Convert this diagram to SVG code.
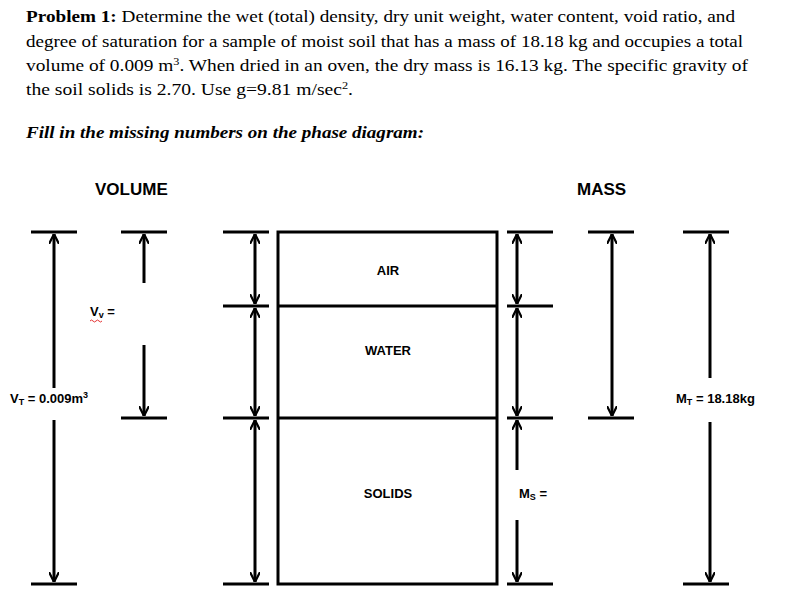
<svg xmlns="http://www.w3.org/2000/svg" width="787" height="604" viewBox="0 0 787 604">
<defs>
<marker id="ah" viewBox="0 0 10 10" refX="10" refY="5" markerWidth="10" markerHeight="10" markerUnits="userSpaceOnUse" orient="auto"><path d="M0,0 L10,5 L0,10" fill="none" stroke="#000" stroke-width="2.2"/></marker>
</defs>
<style>
.t{font-family:"Liberation Serif",serif;font-size:17.5px;fill:#000}
.s{font-family:"Liberation Sans",Arial,sans-serif;font-weight:bold;fill:#000}
.k{stroke:#000;stroke-width:3;fill:none}
.a{stroke:#000;stroke-width:3;fill:none;marker-end:url(#ah)}
</style>
<rect width="787" height="604" fill="#fff"/>
<g id="problem">
<text class="t" x="26" y="22" textLength="709" lengthAdjust="spacingAndGlyphs"><tspan font-weight="bold">Problem 1:</tspan>  Determine the wet (total) density, dry unit weight, water content, void ratio, and</text>
<text class="t" x="26" y="47" textLength="717" lengthAdjust="spacingAndGlyphs">degree of saturation for a sample of moist soil that has a mass of 18.18 kg and occupies a total</text>
<text class="t" x="26" y="71" textLength="722" lengthAdjust="spacingAndGlyphs">volume of 0.009 m<tspan dy="-6" font-size="11">3</tspan><tspan dy="6">.  When dried in an oven, the dry mass is 16.13 kg.  The specific gravity of</tspan></text>
<text class="t" x="26" y="95" textLength="327" lengthAdjust="spacingAndGlyphs">the soil solids is 2.70.  Use g=9.81 m/sec<tspan dy="-6" font-size="11">2</tspan><tspan dy="6">.</tspan></text>
<text class="t" x="26" y="138" font-weight="bold" font-style="italic" textLength="398" lengthAdjust="spacingAndGlyphs">Fill in the missing numbers on the phase diagram:</text>
</g>
<g id="headers">
<text class="s" x="95" y="195" font-size="17">VOLUME</text>
<text class="s" x="577" y="195" font-size="17">MASS</text>
</g>
<g id="phases">
<rect x="278" y="232" width="219" height="352" class="k"/>
<line x1="278" y1="306" x2="497" y2="306" class="k"/>
<line x1="278" y1="418" x2="497" y2="418" class="k"/>
<text class="s" x="388" y="275" font-size="13" text-anchor="middle" font-weight="normal">AIR</text>
<text class="s" x="388" y="355" font-size="13" text-anchor="middle" font-weight="normal">WATER</text>
<text class="s" x="388" y="498" font-size="13" text-anchor="middle" font-weight="normal">SOLIDS</text>
</g>
<g id="labels">
<text class="s" x="10" y="403" font-size="13">V<tspan font-size="9" dy="2">T</tspan><tspan dy="-2"> = 0.009m</tspan><tspan font-size="9" dy="-5">3</tspan></text>
<text class="s" x="90" y="316" font-size="13">V<tspan font-size="9" dy="2">v</tspan><tspan dy="-2"> =</tspan></text>
<path d="M90,321 q1.5,-2 3,0 t3,0 t3,0 t3,0" stroke="#d00" stroke-width="0.8" fill="none"/>
<text class="s" x="519" y="498" font-size="13" font-weight="normal">M<tspan font-size="9" dy="2">S</tspan><tspan dy="-2"> =</tspan></text>
<text class="s" x="676" y="403" font-size="13">M<tspan font-size="9" dy="2">T</tspan><tspan dy="-2"> = 18.18kg</tspan></text>
</g>
<g id="connectors">
<g class="k">
<line x1="31" y1="232" x2="77" y2="232"/><line x1="31" y1="584" x2="77" y2="584"/>
<line x1="121" y1="232" x2="167" y2="232"/><line x1="121" y1="418" x2="167" y2="418"/>
<line x1="223" y1="232" x2="269" y2="232"/><line x1="223" y1="306" x2="269" y2="306"/><line x1="223" y1="418" x2="269" y2="418"/><line x1="223" y1="584" x2="269" y2="584"/>
<line x1="507" y1="232" x2="553" y2="232"/><line x1="507" y1="306" x2="553" y2="306"/><line x1="507" y1="418" x2="553" y2="418"/><line x1="507" y1="584" x2="553" y2="584"/>
<line x1="588" y1="232" x2="634" y2="232"/><line x1="588" y1="418" x2="634" y2="418"/>
<line x1="683" y1="232" x2="729" y2="232"/><line x1="683" y1="584" x2="729" y2="584"/>
</g>
<line x1="54" y1="388" x2="54" y2="234" class="a"/>
<line x1="54" y1="420" x2="54" y2="582" class="a"/>
<line x1="144" y1="283" x2="144" y2="234" class="a"/>
<line x1="144" y1="345" x2="144" y2="416" class="a"/>
<line x1="255" y1="269" x2="255" y2="234" class="a"/><line x1="255" y1="269" x2="255" y2="304" class="a"/>
<line x1="255" y1="362" x2="255" y2="308" class="a"/><line x1="255" y1="362" x2="255" y2="416" class="a"/>
<line x1="255" y1="500" x2="255" y2="420" class="a"/><line x1="255" y1="500" x2="255" y2="582" class="a"/>
<line x1="517" y1="269" x2="517" y2="234" class="a"/><line x1="517" y1="269" x2="517" y2="304" class="a"/>
<line x1="517" y1="362" x2="517" y2="308" class="a"/><line x1="517" y1="362" x2="517" y2="416" class="a"/>
<line x1="517" y1="470" x2="517" y2="420" class="a"/>
<line x1="517" y1="520" x2="517" y2="582" class="a"/>
<line x1="612" y1="325" x2="612" y2="234" class="a"/><line x1="612" y1="325" x2="612" y2="416" class="a"/>
<line x1="710" y1="378" x2="710" y2="234" class="a"/>
<line x1="710" y1="422" x2="710" y2="582" class="a"/>
</g>
</svg>
